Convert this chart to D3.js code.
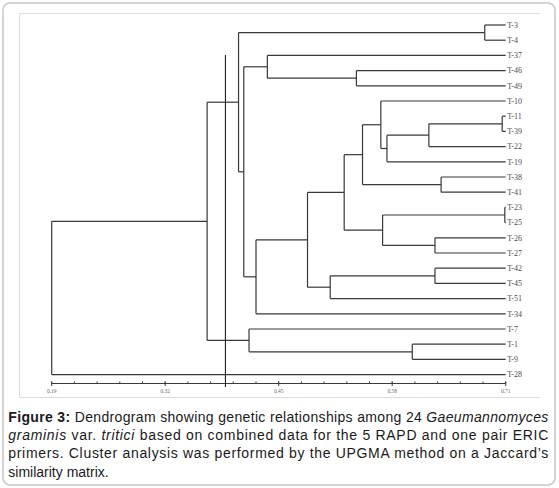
<!DOCTYPE html>
<html>
<head>
<meta charset="utf-8">
<script src="https://cdn.jsdelivr.net/npm/d3@7"></script>
<style>
  body { margin: 0; background: #fff; }
  svg { display: block; }
</style>
</head>
<body>
<div id="chart"></div>
<script>
const width = 559;
const height = 488;

// leaves, top to bottom
const leafNames = ['T-3','T-4','T-37','T-46','T-49','T-10','T-11','T-39','T-22','T-19','T-38','T-41',
  'T-23','T-25','T-26','T-27','T-42','T-45','T-51','T-34','T-7','T-1','T-9','T-28'];

// UPGMA merges: merge i creates node "n" + i
const mergeLeft  = ['T-23','T-11','T-3','T-38','T-26','T-42','n1','T-1','n6','n0','T-10','n10',
  'T-46','n11','n5','n13','T-37','n15','T-7','n16','n2','n20','n21'];
const mergeRight = ['T-25','T-39','T-4','T-41','T-27','T-45','T-22','T-9','T-19','n4','n8','n3',
  'T-49','n9','T-51','n14','n12','T-34','n7','n17','n19','n18','T-28'];
const mergeSim   = [0.709, 0.706, 0.686, 0.636, 0.629, 0.629, 0.622, 0.603, 0.574, 0.569, 0.567, 0.546,
  0.539, 0.525, 0.509, 0.483, 0.437, 0.424, 0.416, 0.410, 0.404, 0.368, 0.19];

const tickValues = [0.19, 0.32, 0.45, 0.58, 0.71];
const minorStep = 0.026;
const cutoff = 0.389;

const captionLines = [
  [['Figure 3:', 'b'], [' Dendrogram showing genetic relationships among 24 ', ''], ['Gaeumannomyces', 'i']],
  [['graminis', 'i'], [' var. ', ''], ['tritici', 'i'], [' based on combined data for the 5 RAPD and one pair ERIC', '']],
  [['primers. Cluster analysis was performed by the UPGMA method on a Jaccard\u2019s', '']],
  [['similarity matrix.', '']]
];

const svg = d3.select('#chart')
  .append('svg')
    .attr('width', width)
    .attr('height', height);

// outer box and image frame
svg.append('rect')
  .attr('x', 3).attr('y', 3).attr('width', 552).attr('height', 482)
  .attr('rx', 7)
  .style('fill', 'none').style('stroke', '#c6c6c6').style('stroke-width', 1.5);
svg.append('path')
  .attr('d', 'M540,13.5 H19.5 V397.5 H540')
  .style('fill', 'none').style('stroke', '#dcdcdc').style('stroke-width', 1);

// build tree
const nodes = {};
leafNames.forEach(n => nodes[n] = { name: n, sim: null });
mergeLeft.forEach((l, i) => {
  nodes['n' + i] = { name: 'n' + i, sim: mergeSim[i], children: [nodes[l], nodes[mergeRight[i]]] };
});
const root = d3.hierarchy(nodes['n' + (mergeLeft.length - 1)]);

const x = d3.scaleLinear().domain([0.19, 0.71]).range([51.7, 505.7]);
const y = d3.scalePoint().domain(leafNames).range([25, 374.6]);

root.eachAfter(d => {
  if (d.children) {
    d.y = d3.mean(d.children, c => c.y);
    d.x = x(d.data.sim);
  } else {
    d.y = y(d.data.name);
    d.x = x.range()[1];
  }
});

const g = svg.append('g')
  .style('stroke', '#383838')
  .style('stroke-width', 1.2)
  .style('fill', 'none');

root.descendants().filter(d => d.children).forEach(d => {
  const ys = d.children.map(c => c.y);
  g.append('line')
    .attr('x1', d.x).attr('x2', d.x)
    .attr('y1', d3.min(ys)).attr('y2', d3.max(ys));
  d.children.forEach(c => {
    g.append('line')
      .attr('x1', d.x).attr('x2', c.x)
      .attr('y1', c.y).attr('y2', c.y);
  });
});

svg.selectAll('.leaf')
  .data(root.leaves())
  .join('text')
    .attr('class', 'leaf')
    .attr('x', d => d.x + 1.5)
    .attr('y', d => d.y)
    .attr('dy', '0.35em')
    .style('font-family', '"Liberation Serif", "DejaVu Serif", serif')
    .style('font-size', '8px')
    .style('fill', '#4a4a4a')
    .text(d => d.data.name);

// axis
const axisY = 383.5;
const minorTicks = d3.range(0, 21).map(i => 0.19 + i * minorStep);
const axis = svg.append('g').attr('transform', `translate(0,${axisY})`);
axis.append('line')
  .attr('x1', x(0.19)).attr('x2', x(0.71))
  .style('stroke', '#3a3a3a').style('stroke-width', 1);
axis.selectAll('.minor')
  .data(minorTicks)
  .join('line')
    .attr('class', 'minor')
    .attr('x1', d => x(d)).attr('x2', d => x(d))
    .attr('y1', -2).attr('y2', 0.5)
    .style('stroke', '#3a3a3a').style('stroke-width', 1);
axis.selectAll('.major')
  .data(tickValues)
  .join('line')
    .attr('class', 'major')
    .attr('x1', d => x(d)).attr('x2', d => x(d))
    .attr('y1', -2).attr('y2', 2.5)
    .style('stroke', '#3a3a3a').style('stroke-width', 1);
axis.selectAll('.tlabel')
  .data(tickValues)
  .join('text')
    .attr('class', 'tlabel')
    .attr('x', d => x(d))
    .attr('y', 9.8)
    .attr('text-anchor', 'middle')
    .style('font-family', '"Liberation Serif", serif')
    .style('font-size', '5.5px')
    .style('fill', '#6a6a6a')
    .text(d => d.toFixed(2));

// cut-off line
svg.append('line')
  .attr('x1', x(cutoff)).attr('x2', x(cutoff))
  .attr('y1', 55).attr('y2', 387)
  .style('stroke', '#222').style('stroke-width', 1.1);

// caption
const cap = svg.append('g')
  .style('font-family', '"Liberation Sans", Arial, sans-serif')
  .style('font-size', '14px')
  .style('fill', '#1a1a1a');
captionLines.forEach((parts, i) => {
  const t = cap.append('text')
    .attr('x', 8.3)
    .attr('y', 421.7 + i * 18.35);
  if (i < captionLines.length - 1) {
    t.attr('textLength', 540).attr('lengthAdjust', 'spacing');
  }
  parts.forEach(([s, f]) => {
    t.append('tspan')
      .style('font-weight', f === 'b' ? 'bold' : null)
      .style('font-style', f === 'i' ? 'italic' : null)
      .text(s);
  });
});
</script>
</body>
</html>
